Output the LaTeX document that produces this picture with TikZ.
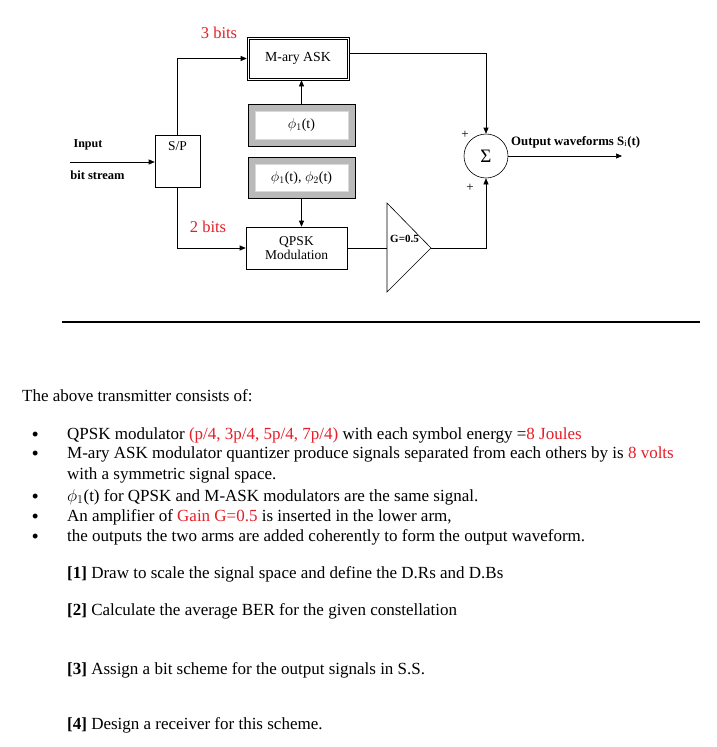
\documentclass[tikz,border=0pt]{standalone}
\usepackage{fontspec}
\setmainfont{Liberation Serif}
\usetikzlibrary{arrows.meta}
\definecolor{txtred}{RGB}{230,30,40}
\tikzset{
  x=1pt,y=-1pt,
  arr/.style={-{Triangle[length=6pt,width=5pt]}, line width=0.6pt},
  ln/.style={line width=0.6pt},
  plainbox/.style={draw, line width=0.6pt, minimum width=#1, minimum height=42pt, inner sep=0pt, align=center},
  body/.style={anchor=base west, inner sep=0pt, font=\fontsize{17}{20}\selectfont},
  bul/.style={anchor=base west, inner sep=0pt, font=\bfseries\fontsize{18}{20}\selectfont},
}
\begin{document}
\begin{tikzpicture}
\useasboundingbox[fill=white] (0,0) rectangle (717,747);
% boxes
\node[draw, line width=0.6pt, minimum width=102pt, minimum height=43pt, font=\fontsize{13.8}{16}\selectfont] (ask) at (298,58.5) {M-ary ASK};
\draw[line width=0.5pt] ([shift={(2.5pt,2.5pt)}]ask.south west) rectangle ([shift={(-2.5pt,-2.5pt)}]ask.north east);
\node[draw, line width=0.6pt, minimum width=45pt, minimum height=52pt] (sp) at (177.5,161) {};
\node[anchor=north, inner sep=0pt, font=\fontsize{13.5}{15}\selectfont] (sptxt) at ([yshift=-7pt]sp.north) {S/P};
% gray boxes
\node[draw, fill=gray!55, line width=0.6pt, minimum width=107pt, minimum height=42pt] (ph1) at (301.5,125) {};
\node[draw=gray!30, fill=white, minimum width=93pt, minimum height=28pt, inner sep=0pt, font=\fontsize{14}{16}\selectfont] (ph1in) at (ph1.center) {$\phi_1$(t)};
\node[draw, fill=gray!55, line width=0.6pt, minimum width=107pt, minimum height=41pt] (ph2) at (301.5,177.5) {};
\node[draw=gray!30, fill=white, minimum width=93pt, minimum height=27pt, inner sep=0pt, font=\fontsize{14}{16}\selectfont] (ph2in) at (ph2.center) {$\phi_1$(t), $\phi_2$(t)};
\node[plainbox=101pt, font=\fontsize{13.5}{14.5}\selectfont] (qpsk) at (296.5,248) {QPSK\\Modulation};
% amplifier
\coordinate (ta) at (387,203);
\coordinate (tb) at (387,292);
\coordinate (tc) at (431,248);
\draw[ln] (ta) -- (tb) -- (tc) -- cycle;
\node[inner sep=0pt, font=\bfseries\fontsize{11}{12}\selectfont] (gain) at (404.5,239) {G=0.5};
% summer
\node[draw, circle, line width=0.6pt, minimum size=44pt, inner sep=0pt, font=\fontsize{19}{21}\selectfont] (sum) at (486,156) {Σ};
\node[inner sep=0pt, font=\fontsize{13}{14}\selectfont] (p1) at (465,135) {+};
\node[inner sep=0pt, font=\fontsize{13}{14}\selectfont] (p2) at (470,188) {+};
% labels
\node[inner sep=0pt, text=txtred, font=\fontsize{16.5}{18}\selectfont] (b3) at (219,33) {3 bits};
\node[inner sep=0pt, text=txtred, font=\fontsize{16.5}{18}\selectfont] (b2) at (208,227) {2 bits};
\node[inner sep=0pt, font=\bfseries\fontsize{12}{14}\selectfont] (inp) at (88,145) {Input};
\node[inner sep=0pt, font=\bfseries\fontsize{12.5}{14}\selectfont] (bs) at (97.5,175) {bit stream};
\node[inner sep=0pt, anchor=west, font=\bfseries\fontsize{12.8}{14}\selectfont] (outl) at (511,142) {Output waveforms S$_{\mathrm{i}}$(t)};
% connectors
\coordinate (inS) at (70,162);
\draw[arr] (inS) -- (sp.west |- inS);
\draw[arr] (sp.north) |- (ask.west);
\draw[arr] (sp.south) |- (qpsk.west);
\draw[arr] (ph1.north) -- (ph1.north |- ask.south);
\draw[arr] (ph2.south) -- (ph2.south |- qpsk.north);
\draw[ln] (qpsk.east) -- (qpsk.east -| ta);
\coordinate (askout) at ([yshift=5pt]ask.east);
\draw[arr] (askout) -| (sum.north);
\draw[arr] (tc) -| (sum.south);
\coordinate (outE) at (622,156);
\draw[arr] (sum.east) -- (outE);
% rule
\coordinate (r1) at (62,322);
\coordinate (r2) at (700,322);
\draw[line width=1.6pt] (r1) -- (r2);
% text
\node[body] (t0) at (22,401) {The above transmitter consists of:};
\node[bul] (d1) at (32,440) {•};
\node[body] (t1) at (67,439) {QPSK modulator \textcolor{txtred}{(p/4, 3p/4, 5p/4, 7p/4)} with each symbol energy =\textcolor{txtred}{8 Joules}};
\node[bul] (d2) at (32,459) {•};
\node[body] (t2) at (67,458) {M-ary ASK modulator quantizer produce signals separated from each others by is \textcolor{txtred}{8 volts}};
\node[body] (t2b) at (67,479) {with a symmetric signal space.};
\node[bul] (d3) at (32,502) {•};
\node[body] (t3) at (67,501) {$\phi_1$(t) for QPSK and M-ASK modulators are the same signal.};
\node[bul] (d4) at (32,522) {•};
\node[body] (t4) at (67,521) {An amplifier of \textcolor{txtred}{Gain G=0.5} is inserted in the lower arm,};
\node[bul] (d5) at (32,542) {•};
\node[body] (t5) at (67,541) {the outputs the two arms are added coherently to form the output waveform.};
\node[body] (q1) at (67,578) {\textbf{[1]} Draw to scale the signal space and define the D.Rs and D.Bs};
\node[body] (q2) at (67,615) {\textbf{[2]} Calculate the average BER for the given constellation};
\node[body] (q3) at (67,674) {\textbf{[3]} Assign a bit scheme for the output signals in S.S.};
\node[body] (q4) at (67,729) {\textbf{[4]} Design a receiver for this scheme.};
\end{tikzpicture}
\end{document}
